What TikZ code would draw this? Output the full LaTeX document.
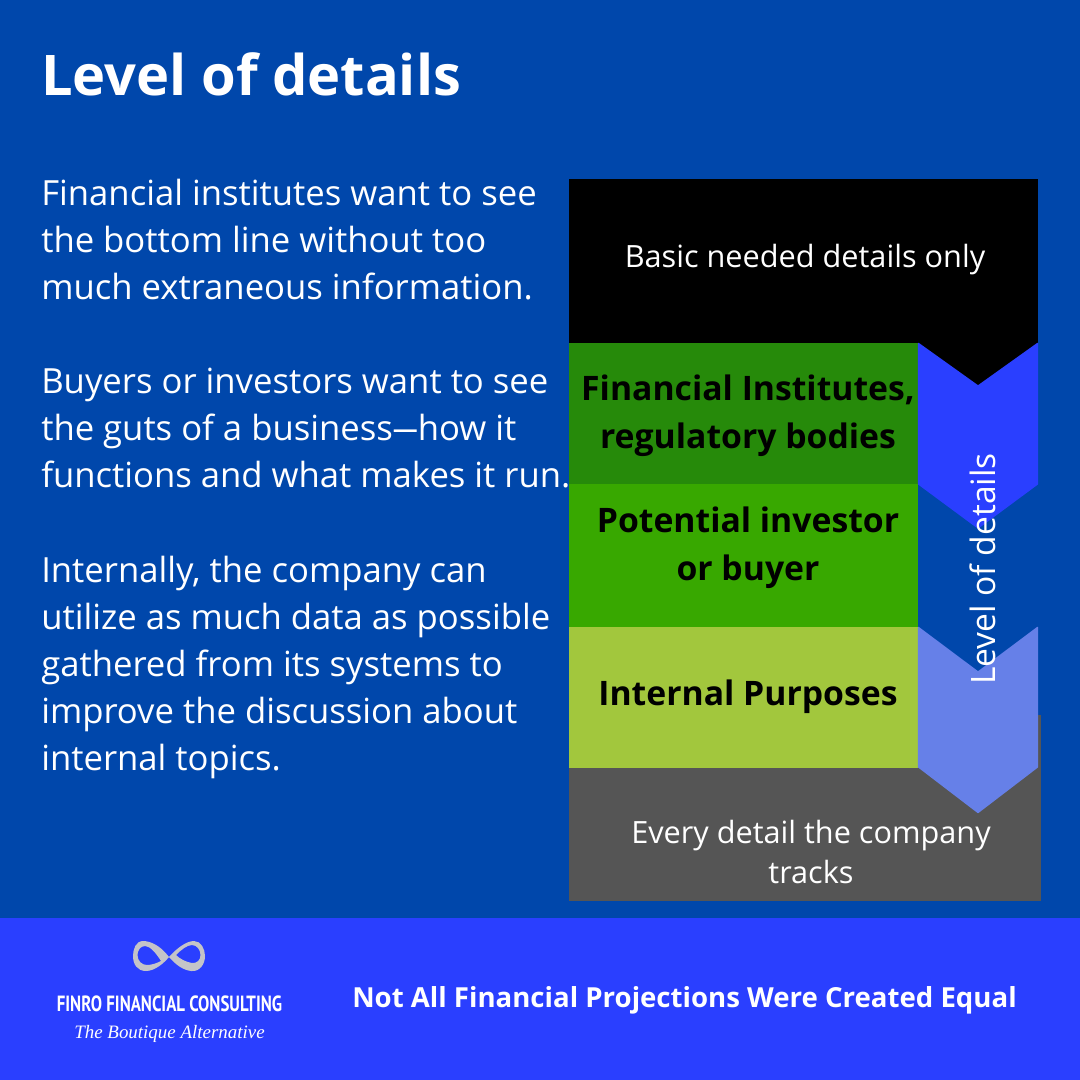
\documentclass[tikz,border=0pt]{standalone}
\usepackage{fontspec}
\setmainfont{Open Sans}
\newfontfamily\logofont{PT Sans}
\newfontfamily\tagfont{Liberation Serif}
\definecolor{bgblue}{HTML}{0047AB}
\definecolor{barblue}{HTML}{2A3FFF}
\definecolor{lightchev}{HTML}{6680E8}
\definecolor{greenA}{HTML}{268A0A}
\definecolor{greenB}{HTML}{38A800}
\definecolor{greenC}{HTML}{A2C73D}
\definecolor{graybox}{HTML}{555555}
\definecolor{logogray}{HTML}{C4C4C8}
\tikzset{
  bodytext/.style={anchor=north west,align=left,text=white,inner sep=0pt,font=\fontsize{26pt}{35.25pt}\selectfont},
  boxwhite/.style={align=center,text=white,inner sep=0pt,font=\fontsize{23pt}{30.5pt}\selectfont},
  boxbold/.style={align=center,text=black,inner sep=0pt,font=\fontsize{25.3pt}{36pt}\selectfont\bfseries},
  chev/.style={line join=round,line width=1pt}
}
\begin{document}
\begin{tikzpicture}[x=0.75pt,y=-0.75pt]
\useasboundingbox (0,0) rectangle (1080,1080);
\fill[bgblue] (0,0) rectangle (1080,1080);
\fill[barblue] (0,918) rectangle (1080,1080);
% boxes
\fill[black] (569,179) rectangle (1038,392);
\fill[graybox] (569,715) rectangle (1041,901);
\fill[greenA] (569,343) rectangle (918,484);
\fill[greenB] (569,484) rectangle (918,627);
\fill[greenC] (569,627) rectangle (918,768);
% chevrons
\filldraw[chev,draw=barblue,fill=barblue] (918.5,343.5) -- (978,386) -- (1037.5,343.5) -- (1037.5,484) -- (978,528) -- (918.5,484) -- cycle;
\filldraw[chev,draw=lightchev,fill=lightchev] (918.5,627.5) -- (978,672) -- (1037.5,627.5) -- (1037.5,767) -- (978,812.5) -- (918.5,767) -- cycle;
% title
\node[anchor=base west,text=white,inner sep=0pt,font=\fontsize{42pt}{50pt}\selectfont\bfseries] (title) at (41,96) {Level of details};
% body
\node[bodytext] (p1) at (41,179) {Financial institutes want to see\\the bottom line without too\\much extraneous information.};
\node[bodytext] (p2) at (41,367.5) {Buyers or investors want to see\\the guts of a business\scalebox{0.72}[1]{—}how it\\functions and what makes it run.};
\node[bodytext] (p3) at (41,555.5) {Internally, the company can\\utilize as much data as possible\\gathered from its systems to\\improve the discussion about\\internal topics.};
% box labels
\node[boxwhite] (basic) at (805,260) {Basic needed details only};
\node[boxbold] (fin) at (748,415.5) {Financial Institutes,\\regulatory bodies};
\node[boxbold] (pot) at (748,548) {Potential investor\\or buyer};
\node[boxbold] (int) at (748,696.5) {Internal Purposes};
\node[boxwhite] (every) at (811,852) {Every detail the company\\tracks};
\node[rotate=90,text=white,inner sep=0pt,font=\fontsize{25.2pt}{28pt}\selectfont] (lod) at (983,569) {Level of details};
% footer
\node[text=white,inner sep=0pt,font=\fontsize{20.7pt}{25pt}\selectfont\bfseries] (tagline) at (684.5,1000) {Not All Financial Projections Were Created Equal};
\fill[logogray,even odd rule]
  (169,957) .. controls (160,945) and (150,941) .. (143,941)
  .. controls (136,941) and (133,949) .. (133,956)
  .. controls (133,964) and (137,971) .. (146,971)
  .. controls (155,971) and (164,963) .. (169,957)
  .. controls (176,949) and (186,941) .. (194,941)
  .. controls (201,941) and (205,949) .. (205,956)
  .. controls (205,964) and (200,972) .. (191,971)
  .. controls (183,970) and (176,965) .. (169,957) -- cycle
  (161,961) .. controls (156,953) and (150,946) .. (145,946)
  .. controls (140,946) and (137.5,951) .. (137.5,955)
  .. controls (137.5,961) and (142,965) .. (147,965)
  .. controls (152,965) and (157,963) .. (161,961) -- cycle
  (176,955) .. controls (181,950) and (187,945) .. (192,945)
  .. controls (197,945) and (200.5,950) .. (200.5,955)
  .. controls (200.5,960) and (197,963.5) .. (192,963)
  .. controls (186,962) and (180,959) .. (176,955) -- cycle;
\node[text=white,inner sep=0pt,xscale=0.765,font=\fontsize{16.5pt}{20pt}\selectfont\logofont\bfseries] (logo) at (169.5,1004) {FINRO FINANCIAL CONSULTING};
\node[text=white,inner sep=0pt,font=\fontsize{14.2pt}{18pt}\selectfont\tagfont\itshape] (tag) at (169.5,1034) {The Boutique Alternative};
\end{tikzpicture}
\end{document}
